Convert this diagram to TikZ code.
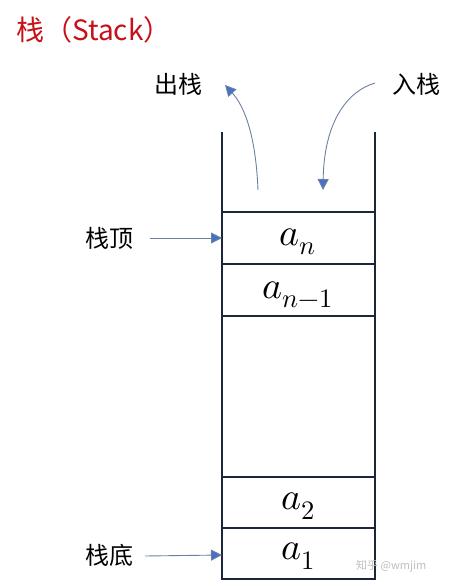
\documentclass[tikz,border=0pt]{standalone}
\usepackage{fontspec}
\usepackage{unicode-math}
\setmainfont{Noto Sans CJK SC}
\setmathfont{Latin Modern Math}
\newfontfamily\cjk{Noto Sans CJK SC}
\usetikzlibrary{arrows.meta}
\definecolor{titlered}{RGB}{200,16,24}
\definecolor{wallc}{RGB}{28,38,58}
\definecolor{arrc}{RGB}{110,128,160}
\definecolor{tipc}{RGB}{68,114,196}
\tikzset{
  wall/.style={draw=wallc, line width=1.6pt},
  lbl/.style={font=\cjk\fontsize{24}{27}\selectfont, inner sep=0pt, anchor=center},
  elem/.style={font=\fontsize{38}{42}\selectfont, inner sep=0pt, anchor=center},
  ptr/.style={draw=arrc, line width=0.9pt, -{Triangle[length=11pt,width=11pt,fill=tipc]}},
}
\begin{document}
\begin{tikzpicture}[x=1pt,y=-1pt]
\useasboundingbox (0,0) rectangle (455,586);
\fill[white] (0,0) rectangle (455,586);
% title
\node[font=\cjk\fontsize{28}{31}\selectfont, text=titlered, anchor=west, inner sep=0pt] (title) at (16,30) {栈（Stack）};
% stack walls
\coordinate (tl) at (222,132);
\coordinate (tr) at (375,132);
\coordinate (bl) at (222,579);
\coordinate (br) at (375,579);
\draw[wall] (tl) -- (bl) -- (br) -- (tr);
\draw[wall] (222,212) -- (375,212);
\draw[wall] (222,264) -- (375,264);
\draw[wall] (222,316) -- (375,316);
\draw[wall] (222,477) -- (375,477);
\draw[wall] (222,528) -- (375,528);
% elements
\node[elem] (an) at (298,242) {$a_n$};
\node[elem] (an1) at (298,295) {$a_{n-1}$};
\node[elem] (a2) at (298,506) {$a_2$};
\node[elem] (a1) at (298,556) {$a_1$};
% labels
\node[lbl] (top) at (109,238) {栈顶};
\node[lbl] (bot) at (109,555) {栈底};
\node[lbl] (pop) at (178,84) {出栈};
\node[lbl] (push) at (416,84) {入栈};
% pointers
\coordinate (topS) at (150,238);
\coordinate (topE) at (222,238);
\coordinate (botS) at (145,556);
\coordinate (botE) at (222,555);
\draw[ptr] (topS) -- (topE);
\draw[ptr] (botS) -- (botE);
\coordinate (popS) at (258,190);
\coordinate (popE) at (225,85);
\draw[ptr] (popS) .. controls (256,140) and (246,108) .. (popE);
\coordinate (pushS) at (375,83);
\coordinate (pushE) at (323,190);
\draw[ptr] (pushS) .. controls (345,92) and (324,125) .. (pushE);
% watermark
\node[font=\cjk\fontsize{11}{13}\selectfont, text=black!25, anchor=west, inner sep=0pt] (wm) at (356,566) {知乎 @wmjim};
\end{tikzpicture}
\end{document}
